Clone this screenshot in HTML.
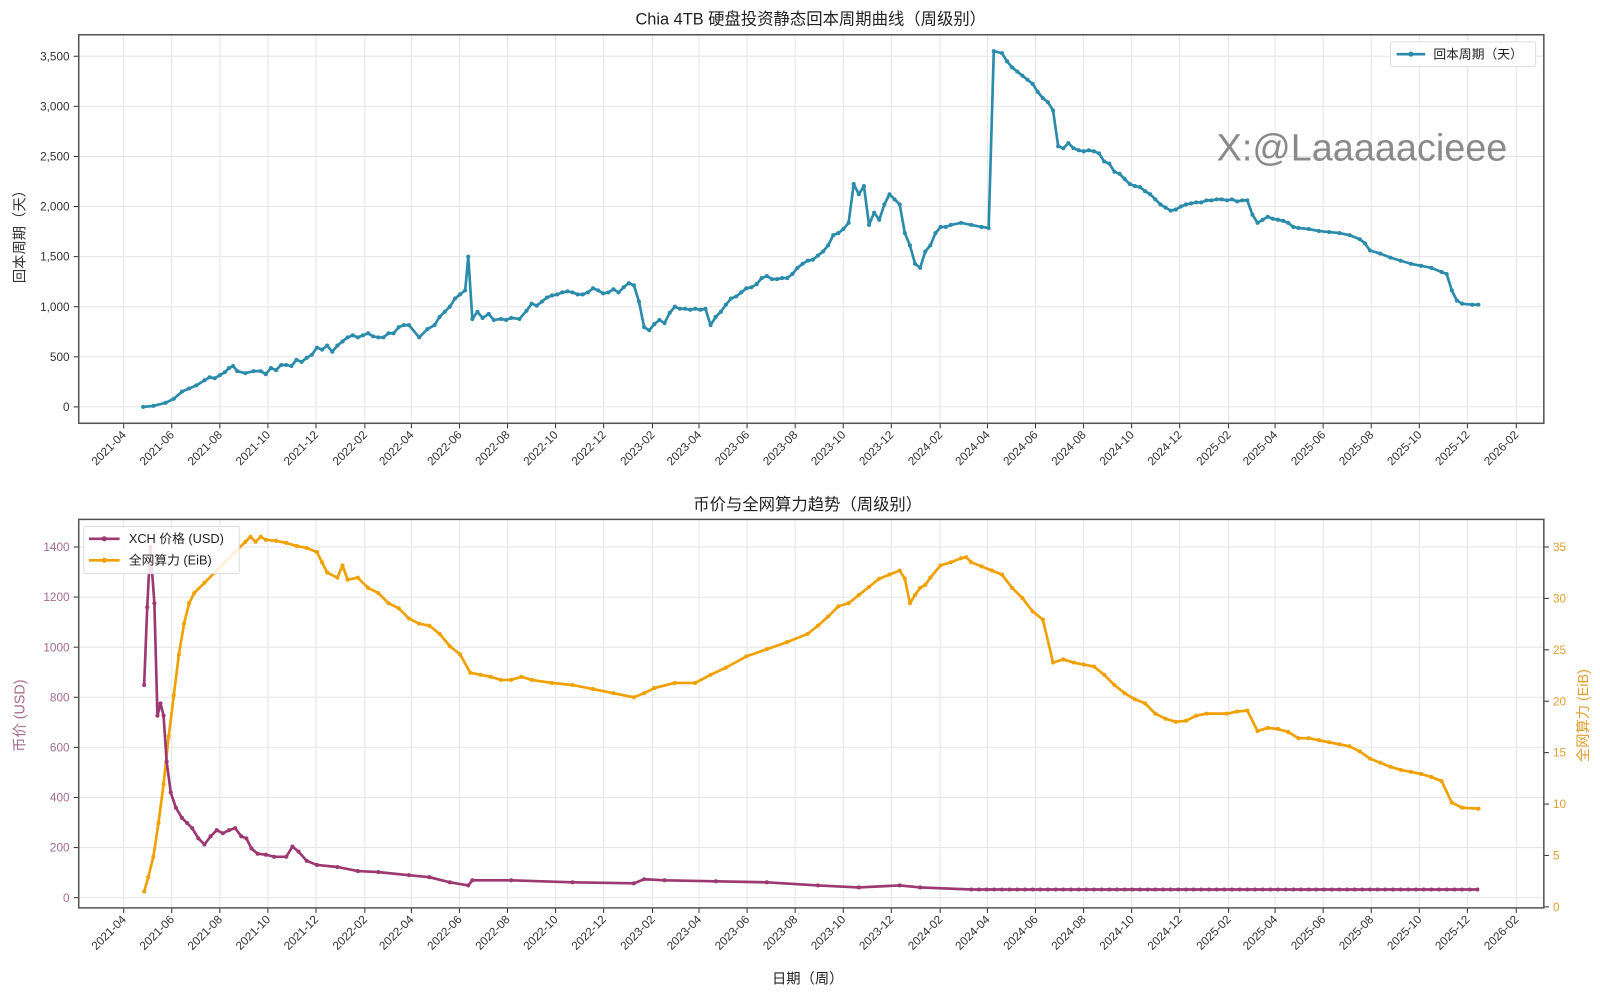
<!DOCTYPE html>
<html><head><meta charset="utf-8">
<style>
html,body{margin:0;padding:0;background:#fff;}
svg{display:block;font-family:"Liberation Sans","Noto Sans CJK SC",sans-serif;}
</style></head>
<body>
<svg id="s" width="1600" height="995" xmlns="http://www.w3.org/2000/svg"></svg>
<script>
(function(){
const S=document.getElementById('s');let h='<g transform="scale(1.0224)">';
const X0=77,X1=1510;
function tx(xp){return xp;}
function dayX(y,m){const d=(Date.UTC(y,m-1,1)-Date.UTC(2021,3,1))/864e5;return 121+d*1362/1767;}
function axes(t,bot){
  h+=`<rect x="${X0}" y="${t}" width="${X1-X0}" height="${bot-t}" fill="#fff"/>`;
  let y=2021,m=4;
  for(let i=0;i<30;i++){const x=dayX(y,m);
    h+=`<line x1="${x}" y1="${t}" x2="${x}" y2="${bot}" stroke="#e6e6e6" stroke-width="1"/>`;
    h+=`<line x1="${x}" y1="${bot}" x2="${x}" y2="${bot+5}" stroke="#333"/>`;
    const lab=`${y}-${String(m).padStart(2,'0')}`;
    h+=`<text x="${x+3}" y="${bot+12}" font-size="11.5" fill="#333" text-anchor="end" transform="rotate(-45 ${x+3} ${bot+12})">${lab}</text>`;
    m+=2;if(m>12){m-=12;y++;}
  }
}
function fmt(v){return String(v).replace(/\B(?=(\d{3})+(?!\d))/g,',');}
// TOP
axes(34,414);
for(let v=0;v<=3500;v+=500){const y=398-v*343/3500;
  h+=`<line x1="${X0}" y1="${y}" x2="${X1}" y2="${y}" stroke="#e6e6e6"/>`;
  h+=`<line x1="${X0-5}" y1="${y}" x2="${X0}" y2="${y}" stroke="#333"/>`;
  h+=`<text x="${X0-9}" y="${y+4}" font-size="11.5" fill="#333" text-anchor="end">${fmt(v)}</text>`;}
h+=`<rect x="${X0}" y="34" width="${X1-X0}" height="380" fill="none" stroke="#555" stroke-width="1.5"/>`;
h+=`<text x="793" y="24" font-size="16" fill="#222" text-anchor="middle">Chia 4TB 硬盘投资静态回本周期曲线（周级别）</text>`;
h+=`<text transform="translate(24 228) rotate(-90)" font-size="14" fill="#333" text-anchor="middle">回本周期（天）</text>`;
const topData=[140,398,150,397,162,394,170,390,178,383,185,380,192,377,200,372,205,369,210,370,215,367,220,364,224,360,228,358,232,363,240,365,248,363,255,363,260,366,265,360,270,362,275,357,280,357,285,358,290,352,295,354,300,350,305,347,310,340,315,342,320,338,325,344,330,338,335,334,340,330,345,328,350,330,355,328,360,326,365,329,370,330,375,330,380,326,385,326,390,320,395,318,400,318,410,330,418,322,425,318,430,310,435,305,440,300,445,292,450,288,455,284,458,251,462,312,467,305,472,311,478,307,483,313,490,312,495,313,500,311,508,312,515,304,520,297,525,299,530,295,535,291,540,289,545,288,550,286,555,285,560,286,565,288,570,288,575,286,580,282,585,284,590,287,595,286,600,283,605,286,610,281,615,277,620,279,625,295,630,320,635,323,640,317,645,313,650,316,655,306,660,300,665,302,670,302,675,303,680,302,685,303,690,302,695,318,700,310,705,305,710,298,715,292,720,290,725,286,730,282,735,281,740,278,745,272,750,270,755,273,760,273,765,272,770,272,775,268,780,262,785,258,790,255,795,254,800,250,805,246,810,240,815,230,820,228,825,224,830,218,835,180,840,190,845,182,850,220,855,208,860,215,865,200,870,190,875,195,880,200,885,228,890,240,895,258,900,262,905,246,910,240,915,228,920,222,925,222,930,220,940,218,950,220,960,222,967,223,972,50,980,52,985,60,990,66,995,70,1000,74,1005,78,1010,82,1015,90,1020,96,1025,100,1030,108,1035,143,1040,145,1045,140,1050,145,1055,147,1060,148,1065,147,1070,148,1075,150,1080,158,1085,160,1090,168,1095,170,1100,175,1105,180,1110,182,1115,183,1120,187,1125,190,1130,195,1135,200,1140,203,1145,206,1150,205,1155,202,1160,200,1165,199,1170,198,1175,198,1180,196,1185,196,1190,195,1195,195,1200,196,1205,195,1210,197,1215,196,1220,196,1225,210,1230,218,1235,215,1240,212,1245,214,1250,215,1255,216,1260,218,1265,222,1270,223,1280,224,1290,226,1300,227,1310,228,1320,230,1330,234,1335,238,1340,245,1350,248,1360,252,1370,255,1380,258,1390,260,1400,262,1410,266,1415,268,1420,284,1425,294,1430,297,1440,298,1446,298];
function line(arr,col,w){let p=[];for(let i=0;i<arr.length;i+=2)p.push(arr[i].toFixed(1)+','+arr[i+1].toFixed(1));
  h+=`<polyline points="${p.join(' ')}" fill="none" stroke="${col}" stroke-width="${w}" stroke-linejoin="round"/>`;
  for(const q of p){const ab=q.split(',');h+=`<circle cx="${ab[0]}" cy="${ab[1]}" r="2" fill="${col}"/>`;}}
line(topData,'#2a8bab',2.6);
h+=`<rect x="1360" y="41" width="142" height="24" fill="#fff" stroke="#ddd" rx="2"/>`;
h+=`<line x1="1366" y1="53" x2="1394" y2="53" stroke="#2a8bab" stroke-width="2.6"/><circle cx="1380" cy="53" r="2.5" fill="#2a8bab"/>`;
h+=`<text x="1402" y="57" font-size="12.5" fill="#222">回本周期（天）</text>`;
h+=`<text x="1190" y="157" font-size="37" fill="#8a8a8a">X:@Laaaaacieee</text>`;
// BOTTOM
axes(508,888);
for(let v=0;v<=1400;v+=200){const y=878-v*343/1400;
  h+=`<line x1="${X0}" y1="${y}" x2="${X1}" y2="${y}" stroke="#e6e6e6"/>`;
  h+=`<line x1="${X0-5}" y1="${y}" x2="${X0}" y2="${y}" stroke="#333"/>`;
  h+=`<text x="${X0-9}" y="${y+4}" font-size="11.5" fill="#a56a8f" text-anchor="end">${v}</text>`;}
for(let v=0;v<=35;v+=5){const y=887-v*352/35;
  h+=`<line x1="${X1}" y1="${y}" x2="${X1+5}" y2="${y}" stroke="#333"/>`;
  h+=`<text x="${X1+9}" y="${y+4}" font-size="11.5" fill="#e0a030">${v}</text>`;}
h+=`<rect x="${X0}" y="508" width="${X1-X0}" height="380" fill="none" stroke="#555" stroke-width="1.5"/>`;
h+=`<text x="790" y="499" font-size="16" fill="#222" text-anchor="middle">币价与全网算力趋势（周级别）</text>`;
h+=`<text transform="translate(24 700) rotate(-90)" font-size="14" fill="#a56a8f" text-anchor="middle">币价 (USD)</text>`;
h+=`<text transform="translate(1553 700) rotate(-90)" font-size="14" fill="#e0a030" text-anchor="middle">全网算力 (EiB)</text>`;
h+=`<text x="790" y="962" font-size="14" fill="#222" text-anchor="middle">日期（周）</text>`;
const hash=[141,872,145,858,150,838,155,805,160,767,165,720,170,680,175,640,180,610,185,590,190,580,200,570,210,560,220,550,230,540,240,530,245,525,250,530,255,525,260,528,270,529,280,531,290,534,300,536,310,540,315,550,320,560,330,565,335,553,340,567,350,565,360,575,370,580,380,590,390,595,400,605,410,610,420,612,430,620,440,632,450,640,460,658,470,660,480,662,490,665,500,665,510,662,520,665,540,668,560,670,580,674,600,678,620,682,630,678,640,673,660,668,680,668,695,660,710,653,730,642,750,635,770,628,790,620,800,612,810,603,820,593,830,590,840,582,850,574,860,566,870,562,880,558,885,566,890,590,895,582,900,575,905,572,910,565,920,553,930,550,940,546,945,545,950,550,960,554,970,558,980,562,990,575,1000,585,1010,598,1020,606,1030,648,1040,645,1050,648,1060,650,1070,652,1080,660,1090,670,1100,678,1110,684,1120,688,1130,698,1140,703,1150,706,1160,705,1170,700,1180,698,1200,698,1210,696,1220,695,1230,715,1240,712,1250,713,1260,716,1270,722,1280,722,1290,724,1300,726,1310,728,1320,730,1330,735,1340,742,1350,746,1360,750,1370,753,1380,755,1390,757,1400,760,1410,764,1420,785,1430,790,1446,791];
const price=[141,670,144,594,147,535,151,590,154,700,157,688,160,700,163,745,167,775,172,790,178,800,183,805,188,810,194,820,200,826,206,818,212,812,218,815,224,812,230,810,236,818,241,820,246,830,252,835,260,836,268,838,280,838,286,828,292,833,300,842,310,846,330,848,350,852,370,853,400,856,420,858,440,863,458,866,462,861,500,861,560,863,620,864,630,860,650,861,700,862,750,863,800,866,840,868,880,866,900,868,950,870];
for(let x=957.5;x<=1446;x+=7.5){price.push(x,870);}
line(hash,'#f0a000',2.6);
line(price,'#9c3872',2.6);
h+=`<rect x="82" y="515" width="152" height="46" fill="#fff" fill-opacity="0.85" stroke="#ddd" rx="2"/>`;
h+=`<line x1="87" y1="527" x2="117" y2="527" stroke="#9c3872" stroke-width="2.6"/><circle cx="102" cy="527" r="2.5" fill="#9c3872"/>`;
h+=`<text x="126" y="531" font-size="12.5" fill="#222">XCH 价格 (USD)</text>`;
h+=`<line x1="87" y1="548" x2="117" y2="548" stroke="#f0a000" stroke-width="2.6"/><circle cx="102" cy="548" r="2.5" fill="#f0a000"/>`;
h+=`<text x="126" y="552" font-size="12.5" fill="#222">全网算力 (EiB)</text>`;
h+='</g>';
S.innerHTML=h;
})();
</script>
</body></html>
